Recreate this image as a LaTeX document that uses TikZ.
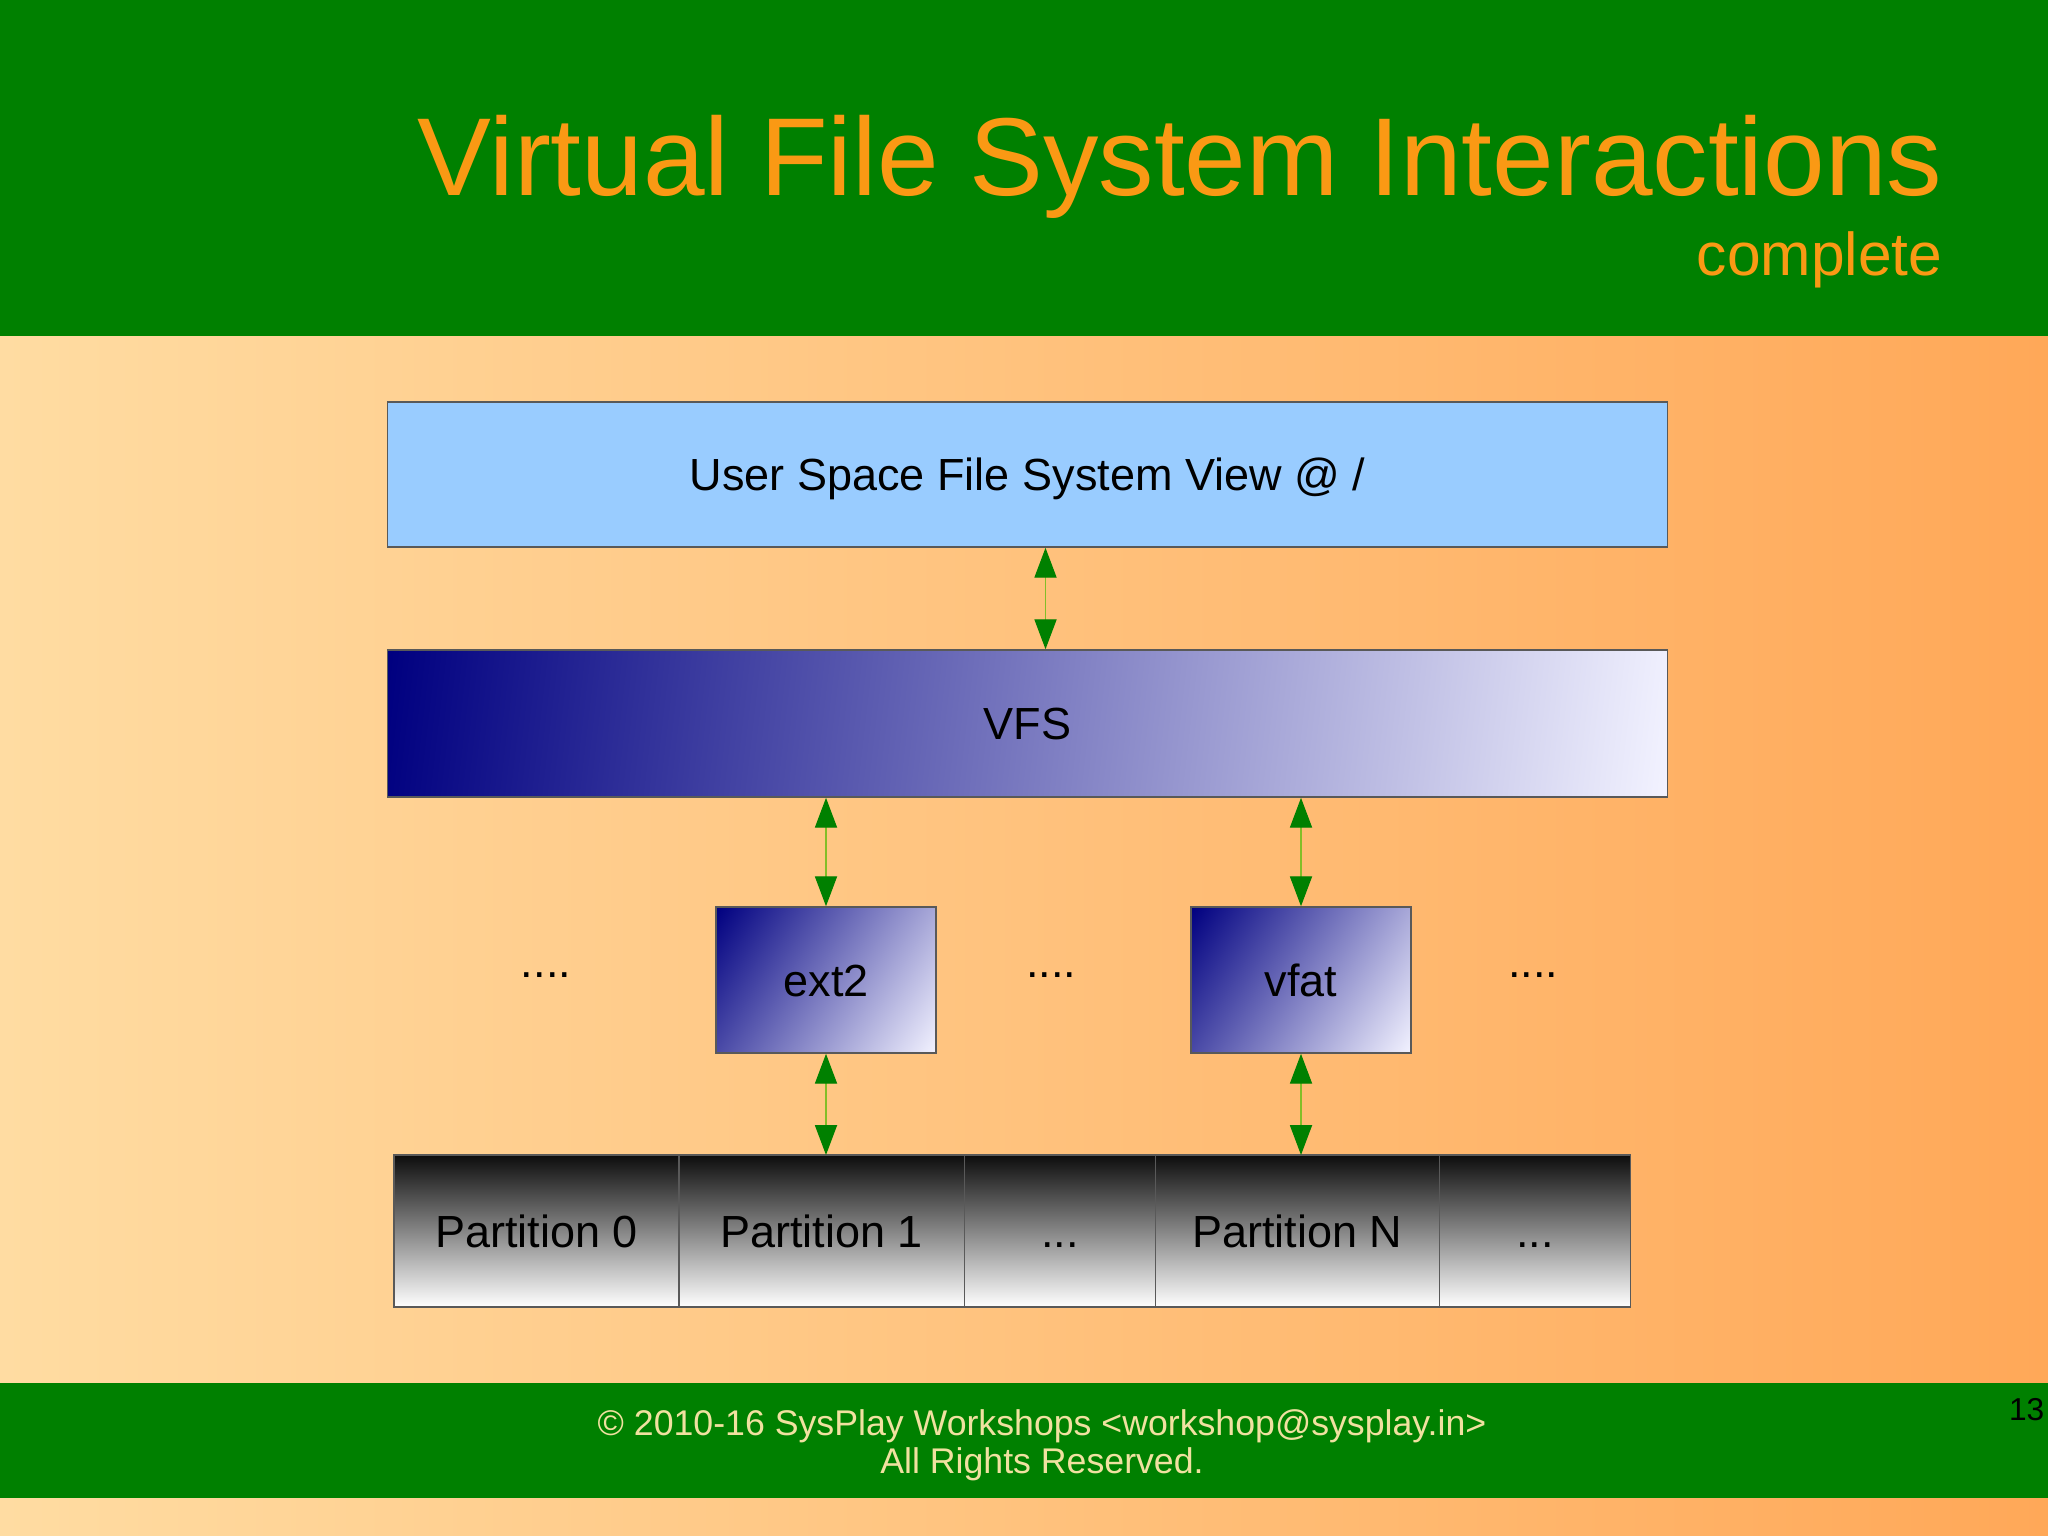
\documentclass[tikz,border=0pt]{standalone}
\usepackage{fontspec}
\setmainfont{Liberation Sans}
\usetikzlibrary{arrows.meta,positioning}
\definecolor{slidegreen}{RGB}{0,128,0}
\definecolor{titleorange}{RGB}{250,153,20}
\definecolor{peachlight}{RGB}{255,220,162}
\definecolor{peachdark}{RGB}{255,168,88}
\definecolor{userblue}{RGB}{153,204,255}
\definecolor{fsnavy}{RGB}{0,0,128}
\definecolor{fspale}{RGB}{242,242,255}
\definecolor{footcream}{RGB}{240,225,160}
\definecolor{linkgreen}{RGB}{130,190,40}
\pgfdeclareverticalshading{vfsshade}{100bp}{color(0bp)=(fspale); color(22.3bp)=(fspale); color(77.7bp)=(fsnavy); color(100bp)=(fsnavy)}
\pgfdeclareverticalshading{fsshade}{100bp}{color(0bp)=(fspale); color(15.4bp)=(fspale); color(84.6bp)=(fsnavy); color(100bp)=(fsnavy)}
\begin{document}
\begin{tikzpicture}[x=0.01cm, y=-0.01cm,
    box/.style={draw=black!65, line width=0.43pt, inner sep=0pt, text height=9.2pt, text depth=0pt, font=\fontsize{12.8}{15}\selectfont},
    layer/.style={box, minimum width=12.79cm},
    fsbox/.style={box, minimum width=2.2cm, minimum height=1.46cm, shading=fsshade, shading angle=56.4},
    part/.style={box, outer sep=0pt, minimum height=1.52cm, top color=black!95, bottom color=white},
    dots/.style={inner sep=0pt, font=\fontsize{12.8}{15}\selectfont},
    link/.style={draw=linkgreen, line width=0.35pt, >={Triangle[length=8.5pt,width=6.3pt,color=slidegreen]}, <->}]
    \useasboundingbox (0,0) rectangle (2048,1535);
    % slide background
    \shade[left color=peachlight, right color=peachdark] (0,0) rectangle (2048,1535);
    \fill[slidegreen] (0,0) rectangle (2048,336);
    \fill[slidegreen] (0,1383) rectangle (2048,1498);
    \node[anchor=base east, inner sep=0pt, text=titleorange, font=\fontsize{31.5}{38}\selectfont] (title) at (1943,195) {Virtual File System Interactions};
    \node[anchor=base east, inner sep=0pt, text=titleorange, font=\fontsize{17.2}{21}\selectfont] (subtitle) at (1943,275) {complete};
    % layers
    \node[layer, minimum height=1.45cm, fill=userblue] (user) at (1027.5,474.5) {User Space File System View @ /};
    \node[layer, minimum height=1.47cm, shading=vfsshade, shading angle=83.4] (vfs) at (1027.5,723.5) {VFS};
    \node[fsbox] (ext2) at (826,980) {ext2};
    \node[fsbox] (vfat) at (1301,980) {vfat};
    \node[dots, anchor=base] (dotsa) at (546,977) {....};
    \node[dots, anchor=base] (dotsb) at (1051,977) {....};
    \node[dots, anchor=base] (dotsc) at (1533,977) {....};
    % partitions
    \node[part, minimum width=2.85cm] (p0) at (536.5,1231) {Partition 0};
    \node[part, minimum width=2.85cm, right=0pt of p0] (p1) {Partition 1};
    \node[part, minimum width=1.91cm, right=0pt of p1] (p2) {...};
    \node[part, minimum width=2.84cm, right=0pt of p2] (pn) {Partition N};
    \node[part, minimum width=1.91cm, right=0pt of pn] (p4) {...};
    % links
    \draw[link] ([xshift=0.18cm]user.south) -- ([xshift=0.18cm]vfs.north);
    \draw[link] (vfs.south -| ext2.north) -- (ext2.north);
    \draw[link] (vfs.south -| vfat.north) -- (vfat.north);
    \draw[link] (ext2.south) -- (ext2.south |- p1.north);
    \draw[link] (vfat.south) -- (vfat.south |- pn.north);
    % footer
    \node[anchor=base, inner sep=0pt, text=footcream, font=\fontsize{10.15}{12}\selectfont] (copyright) at (1042,1435) {© 2010-16 SysPlay Workshops <workshop@sysplay.in>};
    \node[anchor=base, inner sep=0pt, text=footcream, font=\fontsize{10.15}{12}\selectfont] (rights) at (1042,1473) {All Rights Reserved.};
    \node[anchor=base east, inner sep=0pt, font=\fontsize{9}{11}\selectfont] (pagenum) at (2045,1420) {13};
\end{tikzpicture}
\end{document}
